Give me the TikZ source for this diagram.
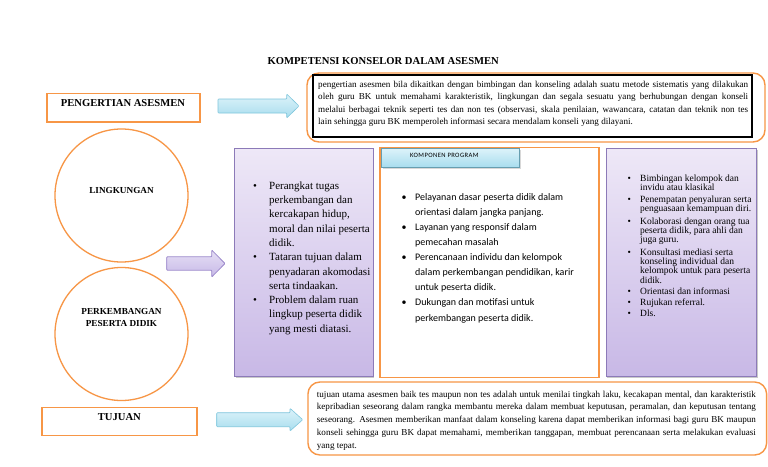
\documentclass[tikz,border=0pt]{standalone}
\usepackage{fontspec}
\setmainfont{Liberation Serif}
\newfontfamily\carlito{Carlito}
\usetikzlibrary{shadows}
\definecolor{orng}{HTML}{F79646}
\definecolor{pborder}{HTML}{8C7AB8}
\definecolor{ptop}{HTML}{EEE8F7}
\definecolor{pbot}{HTML}{C8B8E6}
\definecolor{btop}{HTML}{DDF3FA}
\definecolor{bbot}{HTML}{A8DDEE}
\definecolor{bborder}{HTML}{7FC6DC}
\definecolor{atop}{HTML}{E6DFF5}
\definecolor{abot}{HTML}{C7B9E7}
\definecolor{aborder}{HTML}{9C89CB}
\newcommand{\bul}[1]{\makebox[#1][l]{\textbullet}}
\newcommand{\jline}[2]{\hbox to #1{#2}}
\hbadness=10000
\begin{document}
\begin{tikzpicture}[x=1pt,y=-1pt,
  obox/.style={draw=orng, line width=1.4pt, inner sep=0pt, fill=white},
  pbox/.style={draw=pborder, line width=0.9pt, inner sep=0pt, top color=ptop, bottom color=pbot,
    drop shadow={opacity=0.35, shadow xshift=1pt, shadow yshift=-1.5pt, fill=black!60}},
  lbl/.style={inner sep=0pt, font=\bfseries\fontsize{10.6}{12}\selectfont},
  circ/.style={circle, draw=orng, line width=1.3pt, inner sep=0pt, minimum size=133pt},
  txt/.style={inner sep=0pt, anchor=base west},
  barrow/.style={draw=bborder, line width=0.6pt, top color=btop, bottom color=bbot, rounded corners=0.8pt},
  parrow/.style={draw=aborder, line width=0.8pt, top color=atop, bottom color=abot, rounded corners=0.8pt}]
\fill[white] (0,0) rectangle (768,466);
\useasboundingbox (0,0) rectangle (768,466);

% title
\node[lbl, anchor=base] (title) at (383.3,64.7) {KOMPETENSI KONSELOR DALAM ASESMEN};

% left labels
\node[obox, minimum width=153pt, minimum height=28.7pt] (pengbox) at (123.5,107.7) {};
\node[lbl, anchor=base] (pengtxt) at (123,106.8) {PENGERTIAN ASESMEN};

\node[circ] (ling) at (121.5,195.5) {};
\node[lbl, anchor=base, font=\bfseries\fontsize{9.2}{12}\selectfont] (lingtxt) at (121.5,193.2) {LINGKUNGAN};

\node[circ] (perk) at (121.5,334) {};
\node[lbl, anchor=base, align=center, font=\bfseries\fontsize{9.2}{12}\selectfont] (perktxt) at (121.5,326.3) {PERKEMBANGAN\\PESERTA DIDIK};

\node[obox, minimum width=155pt, minimum height=28pt] (tujbox) at (119.5,421.7) {};
\node[lbl, anchor=base] (tujtxt) at (119.4,420.8) {TUJUAN};

% arrows
\draw[barrow] (218,99) -- (286.7,99) -- (286.7,94) -- (299,106) -- (286.7,118) -- (286.7,113) -- (218,113) -- cycle;
\draw[barrow] (216.7,412.7) -- (290,412.7) -- (290,408.3) -- (302.7,419.7) -- (290,431) -- (290,426.7) -- (216.7,426.7) -- cycle;
\draw[parrow] (166.7,256.8) -- (211.7,256.8) -- (211.7,250) -- (225,263.5) -- (211.7,277) -- (211.7,270.2) -- (166.7,270.2) -- cycle;

% top definition box
\node[draw=orng, line width=1.4pt, rounded corners=12pt, minimum width=458pt, minimum height=69pt, inner sep=0pt] (defbox) at (536,107.5) {};
\node[draw=black, line width=1.1pt, minimum width=439pt, minimum height=62pt, inner sep=0pt] (defrect) at (532.5,106) {};
\node[txt] (deftext) at (318,87.5) {\parbox[t]{430pt}{\fontsize{9.1}{12.4}\selectfont
\jline{430pt}{pengertian asesmen bila dikaitkan dengan bimbingan dan konseling adalah suatu metode sistematis yang dilakukan}
\jline{430pt}{oleh guru BK untuk memahami karakteristik, lingkungan dan segala sesuatu yang berhubungan dengan konseli}
\jline{430pt}{melalui berbagai teknik seperti tes dan non tes (observasi, skala penilaian, wawancara, catatan dan teknik non tes}
\hbox{lain sehingga guru BK memperoleh informasi secara mendalam konseli yang dilayani.}}};

% three middle boxes
\node[pbox, minimum width=138.3pt, minimum height=228.7pt] (box1) at (303.85,262.35) {};
\node[draw=orng, line width=1.5pt, fill=white, inner sep=0pt, minimum width=219pt, minimum height=229.7pt] (box2) at (489.5,262.5) {};
\node[pbox, minimum width=150.7pt, minimum height=228.7pt] (box3) at (681.35,262.35) {};

\node[draw=bborder!80!black, line width=0.5pt, top color=btop, bottom color=bbot, inner sep=0pt, minimum width=138pt, minimum height=18.7pt,
  drop shadow={opacity=0.3, shadow xshift=1pt, shadow yshift=-1.5pt}] (kompbox) at (450.5,157.65) {};
\node[txt] (komptxt) at (410,157.3) {\carlito\fontsize{6.6}{8}\selectfont\addfontfeature{LetterSpace=6}KOMPONEN PROGRAM};

% box1 text
\node[txt] (b1txt) at (253,189.2) {\parbox[t]{200pt}{\raggedright\fontsize{11}{14.3}\selectfont
\bul{16pt}Perangkat tugas\\
\hspace*{16pt}perkembangan dan\\
\hspace*{16pt}kercakapan hidup,\\
\hspace*{16pt}moral dan nilai peserta\\
\hspace*{16pt}didik.\\
\bul{16pt}Tataran tujuan dalam\\
\hspace*{16pt}penyadaran akomodasi\\
\hspace*{16pt}serta tindaakan.\\
\bul{16pt}Problem dalam ruan\\
\hspace*{16pt}lingkup peserta didik\\
\hspace*{16pt}yang mesti diatasi.}};

% box2 text
\node[txt] (b2txt) at (401.5,200.2) {\parbox[t]{220pt}{\raggedright\carlito\fontsize{10}{15.1}\selectfont
\bul{13.5pt}Pelayanan dasar peserta didik dalam\\
\hspace*{13.5pt}orientasi dalam jangka panjang.\\
\bul{13.5pt}Layanan yang responsif dalam\\
\hspace*{13.5pt}pemecahan masalah\\
\bul{13.5pt}Perencanaan individu dan kelompok\\
\hspace*{13.5pt}dalam perkembangan pendidikan, karir\\
\hspace*{13.5pt}untuk peserta didik.\\
\bul{13.5pt}Dukungan dan motifasi untuk\\
\hspace*{13.5pt}perkembangan peserta didik.}};

% box3 text
\node[txt] (b3txt) at (627.5,181) {\parbox[t]{200pt}{\raggedright\fontsize{9.5}{9.3}\selectfont
\bul{12.5pt}Bimbingan kelompok dan\\
\hspace*{12.5pt}invidu atau klasikal\\[3pt]
\bul{12.5pt}Penempatan penyaluran serta\\
\hspace*{12.5pt}penguasaan kemampuan diri.\\[3pt]
\bul{12.5pt}Kolaborasi dengan orang tua\\
\hspace*{12.5pt}peserta didik, para ahli dan\\
\hspace*{12.5pt}juga guru.\\[3pt]
\bul{12.5pt}Konsultasi mediasi serta\\
\hspace*{12.5pt}konseling individual dan\\
\hspace*{12.5pt}kelompok untuk para peserta\\
\hspace*{12.5pt}didik.\\[2pt]
\bul{12.5pt}Orientasi dan informasi\\[2pt]
\bul{12.5pt}Rujukan referral.\\[2pt]
\bul{12.5pt}Dls.}};

% bottom box
\node[draw=orng, line width=1.4pt, rounded corners=12pt, minimum width=458.7pt, minimum height=73pt, inner sep=0pt] (tujdef) at (537.3,418.5) {};
\node[txt] (tujtext) at (316.7,397) {\parbox[t]{439pt}{\fontsize{9.1}{12.9}\selectfont
\jline{439pt}{tujuan utama asesmen baik tes maupun non tes adalah untuk menilai tingkah laku, kecakapan mental, dan karakteristik}
\jline{439pt}{kepribadian seseorang dalam rangka membantu mereka dalam membuat keputusan, peramalan, dan keputusan tentang}
\jline{439pt}{seseorang. Asesmen memberikan manfaat dalam konseling karena dapat memberikan informasi bagi guru BK maupun}
\jline{439pt}{konseli sehingga guru BK dapat memahami, memberikan tanggapan, membuat perencanaan serta melakukan evaluasi}
\hbox{yang tepat.}}};
\end{tikzpicture}
\end{document}
